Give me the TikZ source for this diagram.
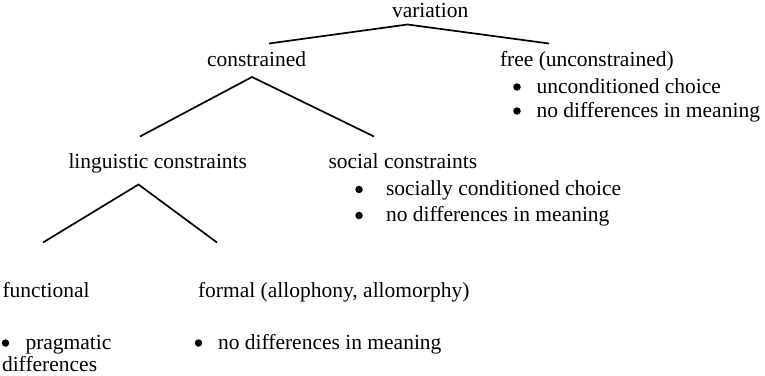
\documentclass[tikz,border=0pt]{standalone}
\usepackage{fontspec}
\setmainfont{Liberation Serif}
\begin{document}
\begin{tikzpicture}[x=1pt,y=-1pt,
  txt/.style={anchor=base west,inner sep=0pt,outer sep=0pt,font=\fontsize{21.5}{26}\selectfont},
  bul/.style={circle,fill=black,inner sep=0pt,outer sep=0pt,minimum size=7.5pt},
  branch/.style={line width=1.7pt,line join=miter}]
\useasboundingbox (0,0) rectangle (765,375);
% texts
\node[txt] (var) at (392,17) {variation};
\node[txt] (con) at (207,66.5) {constrained};
\node[txt] (free) at (500,66.5) {free (unconstrained)};
\node[bul] (fb1) at (517,87) {};
\node[txt] (ft1) at (536.5,93) {unconditioned choice};
\node[bul] (fb2) at (517,111) {};
\node[txt] (ft2) at (536.5,117) {no differences in meaning};
\node[txt] (ling) at (68.5,168.5) {linguistic constraints};
\node[txt] (soc) at (328.5,168.5) {social constraints};
\node[bul] (sb1) at (359,189.5) {};
\node[txt] (st1) at (386,195.5) {socially conditioned choice};
\node[bul] (sb2) at (359,215.5) {};
\node[txt] (st2) at (386,221.5) {no differences in meaning};
\node[txt] (fun) at (2.5,297.5) {functional};
\node[txt] (form) at (198,297.5) {formal (allophony, allomorphy)};
\node[bul] (pb) at (5.5,343) {};
\node[txt] (pt1) at (25.5,349) {pragmatic};
\node[txt] (pt2) at (2,371.5) {differences};
\node[bul] (nb) at (198.5,343) {};
\node[txt] (nt) at (218,349) {no differences in meaning};
% branch points
\coordinate (vtop) at (407.5,24.5);
\coordinate (vl) at (269,43.5);
\coordinate (vr) at (549,43.5);
\coordinate (ctop) at (252,77);
\coordinate (cl) at (140,136.5);
\coordinate (cr) at (374,136.5);
\coordinate (ltop) at (138.5,184.5);
\coordinate (ll) at (43,242.5);
\coordinate (lr) at (217,242.5);
\draw[branch] (vl) -- (vtop) -- (vr);
\draw[branch] (cl) -- (ctop) -- (cr);
\draw[branch] (ll) -- (ltop) -- (lr);
\end{tikzpicture}
\end{document}
